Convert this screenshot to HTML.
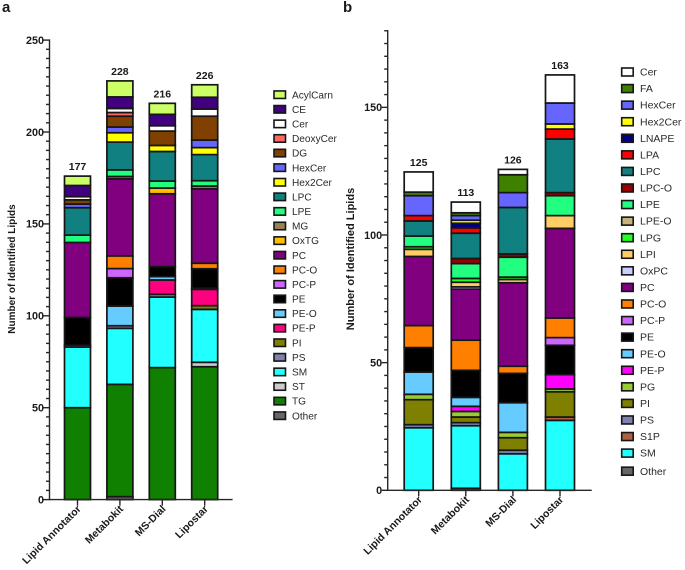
<!DOCTYPE html>
<html lang="en">
<head>
<meta charset="utf-8">
<title>Number of Identified Lipids</title>
<style>
html,body{margin:0;padding:0;background:#fff;}
body{width:685px;height:570px;overflow:hidden;}
svg{display:block;font-family:"Liberation Sans",Arial,sans-serif;}
text{fill:#1a1a1a;}
</style>
</head>
<body>
<svg id="figure" width="685" height="570" viewBox="0 0 685 570" xmlns="http://www.w3.org/2000/svg"></svg>
<script>
const toolsA = ["Lipid Annotator", "Metabokit", "MS-Dial", "Lipostar"];
const classesA = ["AcylCarn","CE","Cer","DeoxyCer","DG","HexCer","Hex2Cer","LPC","LPE","MG","OxTG","PC","PC-O","PC-P","PE","PE-O","PE-P","PI","PS","SM","ST","TG","Other"];
const annotatorA = [5.1,6.1,1.7,0,2.3,2,0,14.9,4,0,0,40.8,0,0,15.1,0,0,0,1,33,0,50,0];
const metabokitA = [8.7,6.3,2.2,2,5.9,3.1,5.1,15.1,3.6,1.3,0,41.9,6.9,5,15.4,10.7,0,0,1.4,30.5,0,61.1,1.6];
const msDialA = [6,6.2,2.9,0,7.8,0,3.3,16.1,3.8,0,3.1,39.7,0,0,5.4,1.8,7.8,0,1.5,38.4,0,71.8,0];
const lipostarA = [6.8,6.4,3.9,0,13,4.1,3.8,14.2,2.9,1.5,0,40.5,3,0,10.6,0.6,8.9,2,0,28.8,2.4,72.3,0];
const totalsA = [177, 228, 216, 226];
const tickLabelsA = [0, 50, 100, 150, 200, 250];

const toolsB = ["Lipid Annotator", "Metabokit", "MS-Dial", "Lipostar"];
const classesB = ["Cer","FA","HexCer","Hex2Cer","LNAPE","LPA","LPC","LPC-O","LPE","LPE-O","LPG","LPI","OxPC","PC","PC-O","PC-P","PE","PE-O","PE-P","PG","PI","PS","S1P","SM","Other"];
const annotatorB = [7.9,1.4,7.8,0,0,2.1,5.9,0,4.2,0,1,2.8,0,27.1,8.6,0,9.6,8.7,0,2.1,9.8,1.2,0,24.5,0];
const metabokitB = [4.2,1.1,1.8,1.2,1.8,2.1,9.9,2,5.8,0,1.5,1.8,0.9,20,11.8,0,10.6,3.5,2,2.2,2.2,1.2,0,24.5,0.8];
const msDialB = [2.1,7,5.8,0,0,0,18.2,1.3,7.8,0,0.9,1.3,0,32.7,2.8,0,11.5,11.6,0,2.1,4.9,1.4,0,14.3,0];
const lipostarB = [11,0,8.2,2,0,3.9,21,1.2,7.8,0,0,5,0,35.1,7.7,3,11.5,0,5.6,1.1,9.9,0,1.3,27.4,0];
const totalsB = [125, 113, 126, 163];
const tickLabelsB = [0, 50, 100, 150];

const paletteCommon = {
  "AcylCarn":"#ccff66","CE":"#400080","Cer":"#ffffff","DeoxyCer":"#ff6666","DG":"#804000",
  "HexCer":"#6666ff","Hex2Cer":"#ffff00","LPC":"#108080","LPE":"#22ff80","MG":"#998055",
  "OxTG":"#ffbf00","PC":"#800080","PC-O":"#ff8000","PC-P":"#cc66ff","PE":"#000000",
  "PE-O":"#66ccff","PI":"#808000","PS":"#8080b0","SM":"#22ffff","ST":"#cccccc",
  "TG":"#108000","Other":"#666666","FA":"#408000","LNAPE":"#000080","LPA":"#ff0000",
  "LPC-O":"#990000","LPE-O":"#c4b47c","LPG":"#22ff22","LPI":"#ffcc66","OxPC":"#ccccff",
  "PG":"#99cc33","S1P":"#b06040"
};
const pePColorA = "#ff0080";
const pePColorB = "#ff00ff";

const NS = "http://www.w3.org/2000/svg";
const root = document.getElementById("figure");

function make(parent, tag, props, content) {
  const el = document.createElementNS(NS, tag);
  for (const key in props) el.setAttribute(key, props[key]);
  if (content !== undefined) el.textContent = content;
  parent.appendChild(el);
  return el;
}
function slug(s) {
  return s.toLowerCase().replace(/[^a-z0-9]+/g, "-");
}

function drawPanel(cfg) {
  const y = v => cfg.y0 - v * cfg.pxPerUnit;
  const x = i => cfg.barStart + i * cfg.barStep;
  const panel = make(root, "g", {});
  
  

  const letter = make(panel, "text", {x: cfg.letterX, y: 12, "font-size": 15, "font-weight": "bold"}, cfg.id);
  
  

  // stacked bars: the arrays list classes top-down, so stack from the end
  cfg.series.forEach((values, s) => {
    const bar = make(panel, "g", {});
    
    
    let cum = 0;
    for (let c = values.length - 1; c >= 0; c--) {
      const v = values[c];
      if (!v) continue;
      const top = y(cum + v);
      const name = cfg.classes[c];
      const seg = make(bar, "rect", {
        x: x(s) - cfg.barW / 2, y: top, width: cfg.barW, height: y(cum) - top,
        fill: cfg.color(name), stroke: "#161616", "stroke-width": 1.7
      });
      
      
      cum += v;
    }
    const total = make(panel, "text", {
      x: x(s), y: y(cum) - 6, "text-anchor": "middle", "font-size": 10.5, "font-weight": "bold"
    }, cfg.totals[s]);
    
    
  });

  // y axis
  const yAxis = make(panel, "g", {stroke: "#262626", "stroke-width": 1.4});
  
  
  make(yAxis, "line", {x1: cfg.axisX, x2: cfg.axisX, y1: y(cfg.yMax) - 0.7, y2: cfg.y0 + 0.7});
  for (let v = 0; v <= cfg.yMax; v += cfg.minorStep) {
    const major = v % cfg.majorStep === 0;
    make(yAxis, "line", {x1: cfg.axisX - (major ? 6 : 3.5), x2: cfg.axisX, y1: y(v), y2: y(v)});
  }
  cfg.tickLabels.forEach(v => {
    const t = make(panel, "text", {
      x: cfg.axisX - 5.5, y: y(v) + 3.8, "text-anchor": "end", "font-size": 10.8, "font-weight": "bold"
    }, v);
    
    
  });
  const title = make(panel, "text", {
    transform: "translate(" + cfg.titleX + "," + cfg.titleY + ") rotate(-90)",
    "text-anchor": "middle", "font-size": cfg.titleSize, "font-weight": "bold"
  }, "Number of Identified Lipids");
  
  

  // x axis
  const xAxis = make(panel, "g", {stroke: "#262626", "stroke-width": 1.4});
  
  
  make(xAxis, "line", {x1: cfg.axisX, x2: cfg.axisEnd, y1: cfg.y0, y2: cfg.y0});
  cfg.tools.forEach((name, i) => {
    make(xAxis, "line", {x1: x(i), x2: x(i), y1: cfg.y0, y2: cfg.y0 + 6});
    const t = make(panel, "text", {
      transform: "translate(" + (x(i) + 4) + "," + (cfg.y0 + 10) + ") rotate(-45)",
      "text-anchor": "end", "font-size": 10.5, "font-weight": "bold"
    }, name);
    
    
  });

  // legend
  const legend = make(panel, "g", {});
  
  
  cfg.classes.forEach((name, i) => {
    const cy = cfg.legendY + i * cfg.legendStep + (name === "Other" ? cfg.otherGap : 0);
    const entry = make(legend, "g", {});
    
    
    make(entry, "rect", {
      x: cfg.legendX + 0.7, y: cy - cfg.swatchH / 2, width: cfg.swatchW, height: cfg.swatchH,
      fill: cfg.color(name), stroke: "#161616", "stroke-width": 1.6
    });
    make(entry, "text", {
      x: cfg.legendTextX, y: cy + 3.6, "font-size": cfg.legendFont, style: "fill:#2a2a2a"
    }, name);
  });
}

drawPanel({
  id: "a", letterX: 2, tools: toolsA, classes: classesA,
  series: [annotatorA, metabokitA, msDialA, lipostarA], totals: totalsA, tickLabels: tickLabelsA,
  color: n => n === "PE-P" ? pePColorA : paletteCommon[n],
  y0: 499.6, pxPerUnit: 1.838, yMax: 250, minorStep: 5, majorStep: 50,
  axisX: 49.5, axisEnd: 232.6, barStart: 77.5, barStep: 42.4, barW: 26,
  titleX: 15, titleY: 269, titleSize: 10,
  legendX: 273.3, legendTextX: 292, legendY: 94.7, legendStep: 14.59, otherGap: 0,
  swatchW: 11.5, swatchH: 7.5, legendFont: 10.1
});

drawPanel({
  id: "b", letterX: 343, tools: toolsB, classes: classesB,
  series: [annotatorB, metabokitB, msDialB, lipostarB], totals: totalsB, tickLabels: tickLabelsB,
  color: n => n === "PE-P" ? pePColorB : paletteCommon[n],
  y0: 490.3, pxPerUnit: 2.553, yMax: 180, minorStep: 5, majorStep: 50,
  axisX: 387.7, axisEnd: 591.7, barStart: 418.7, barStep: 47.1, barW: 29,
  titleX: 354, titleY: 259, titleSize: 11,
  legendX: 621, legendTextX: 640, legendY: 72, legendStep: 16.57, otherGap: 1.5,
  swatchW: 11.5, swatchH: 8, legendFont: 10.5
});
</script>
</body>
</html>
